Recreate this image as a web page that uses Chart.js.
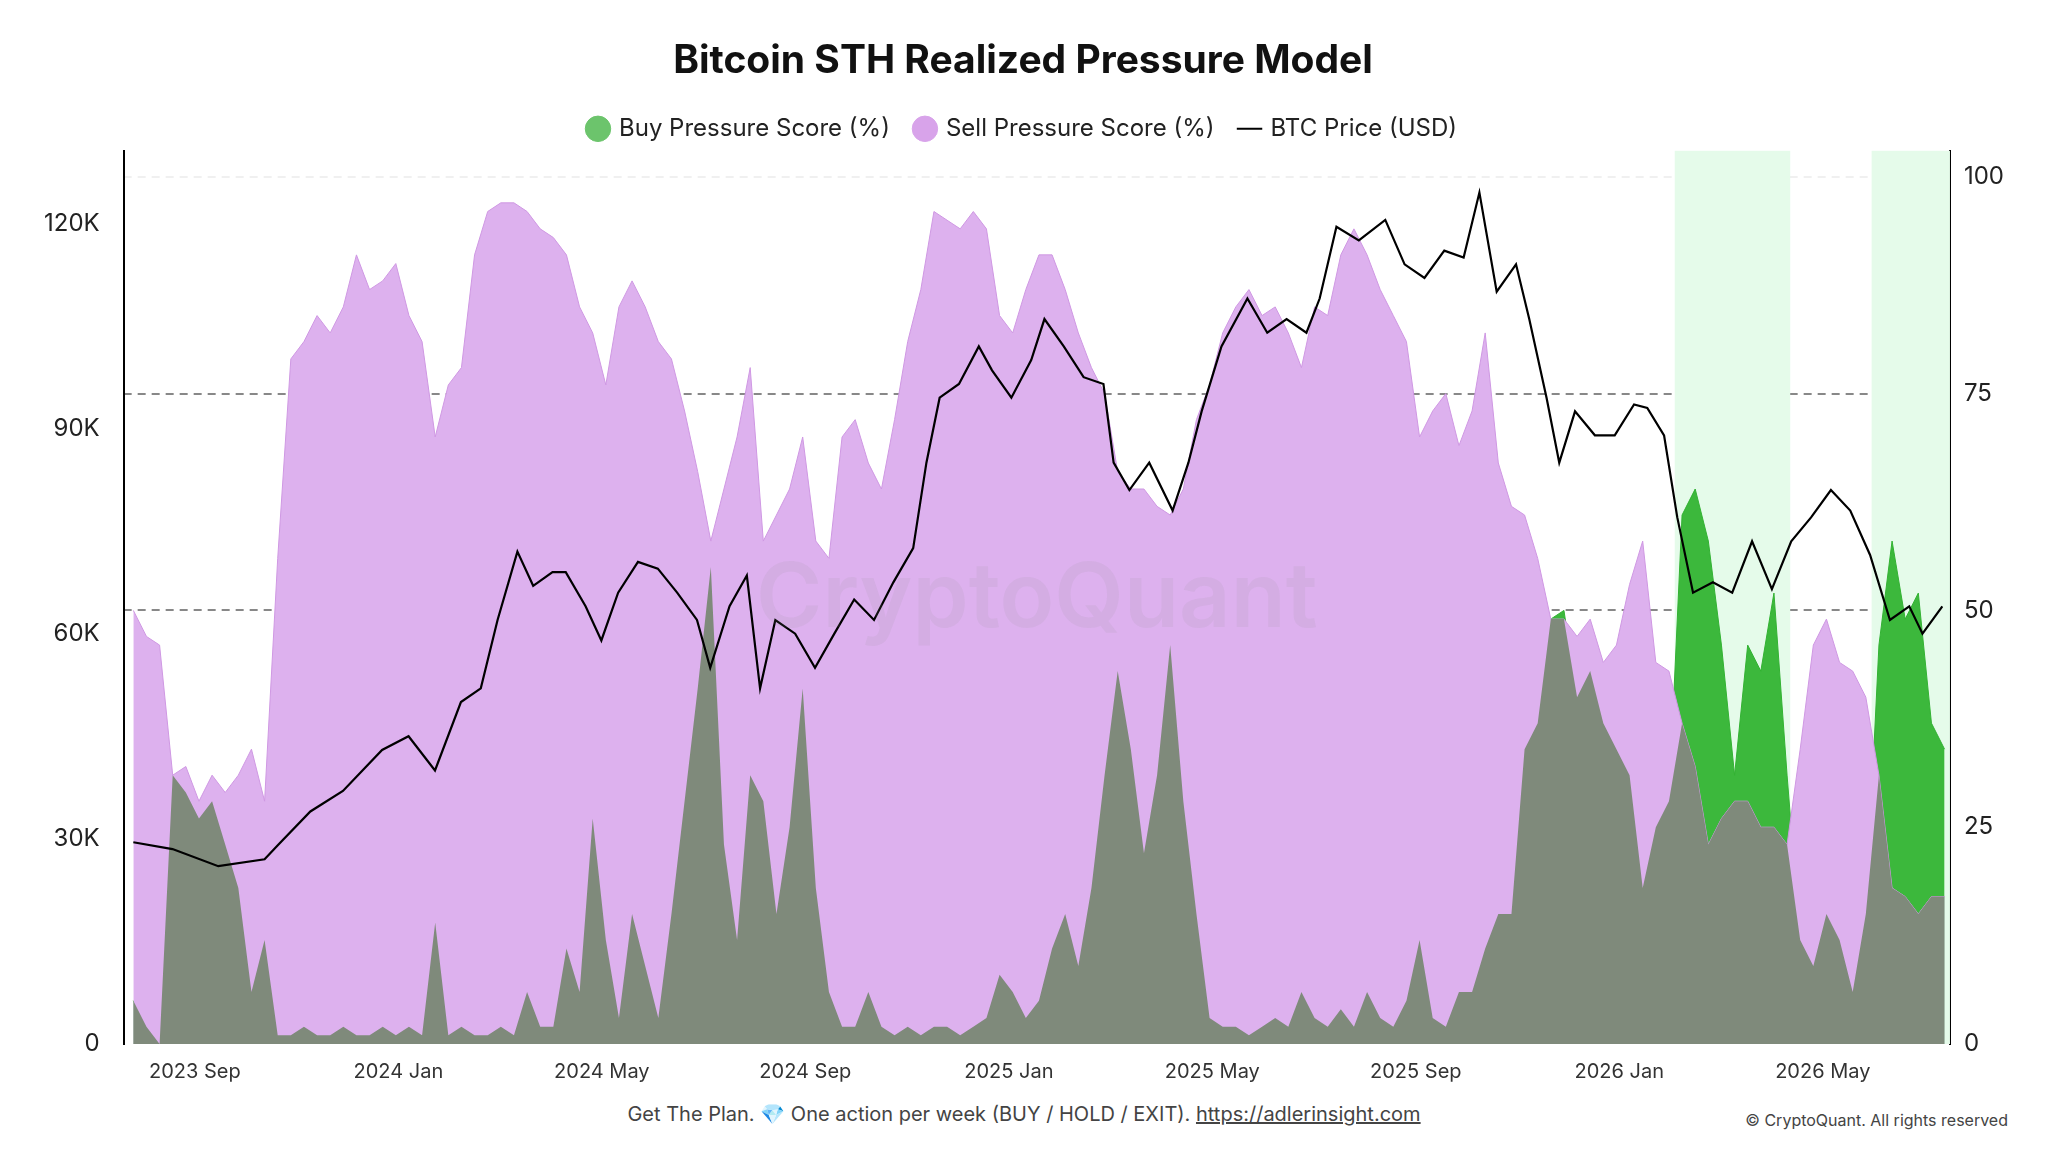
<!DOCTYPE html>
<html lang="en">
<head>
<meta charset="UTF-8">
<title>Bitcoin STH Realized Pressure Model</title>
<style>
  html, body { margin: 0; padding: 0; background: #fff; }
  #wrap { position: relative; width: 2048px; height: 1152px; }
  #footer { position: absolute; left: 0; width: 2048px; top: 1102px; text-align: center;
            font: 20px "Inter", "Noto Sans", sans-serif; color: #444; }
  #footer a { color: #444; }
  #copy { position: absolute; right: 40px; top: 1110px; font: 16px "Inter", sans-serif; color: #444; }
</style>
</head>
<body>
<div id="wrap">
  <canvas id="myChart" width="2048" height="1102"></canvas>
  <div id="footer">Get The Plan. 💎 One action per week (BUY / HOLD / EXIT). <a href="#">https://adlerinsight.com</a></div>
  <div id="copy">© CryptoQuant. All rights reserved</div>
</div>

<script src="https://cdn.jsdelivr.net/npm/chart.js@4"></script>
<script>
// x values are months counted from 2023 Jan (8 = 2023 Sep)
var monthNames = {8: '2023 Sep', 12: '2024 Jan', 16: '2024 May', 20: '2024 Sep', 24: '2025 Jan',
                  28: '2025 May', 32: '2025 Sep', 36: '2026 Jan', 40: '2026 May'};

// pressure scores sampled roughly weekly
var pressureStart = 6.79;
var pressureStep = 0.258;
var sellScore = [50,47,46,31,32,28,31,29,31,34,28,56,79,81,84,82,85,91,87,88,
                 90,84,81,70,76,78,91,96,97,97,96,94,93,91,85,82,76,85,88,85,
                 81,79,73,66,58,64,70,78,58,61,64,70,58,56,70,72,67,64,72,81,
                 87,96,95,94,96,94,84,82,87,91,91,87,82,78,75,66,64,64,62,61,
                 64,72,76,82,85,87,84,85,82,78,85,84,91,94,91,87,84,81,70,73,
                 75,69,73,82,67,62,61,56,49,49,47,49,44,46,53,58,44,43,37,32,
                 23,26,28,28,25,25,23,34,46,49,44,43,40,31,18,17,15,17,17];
var buyScore  = [5,2,0,31,29,26,28,23,18,6,12,1,1,2,1,1,2,1,1,2,
                 1,2,1,14,1,2,1,1,2,1,6,2,2,11,6,26,12,3,15,9,
                 3,15,28,41,55,23,12,31,28,15,25,41,18,6,2,2,6,2,1,2,
                 1,2,2,1,2,3,8,6,3,5,11,15,9,18,31,43,34,22,31,46,
                 28,15,3,2,2,1,2,3,2,6,3,2,4,2,6,3,2,5,12,3,
                 2,6,6,11,15,15,34,37,49,50,40,43,37,34,31,18,25,28,61,64,
                 58,46,31,46,43,52,31,12,9,15,12,6,15,46,58,49,52,37,34];

// BTC price (USD) readings
var priceMonth = [6.79,7.56,8.46,9.37,9.62,10.27,10.91,11.68,12.2,12.72,13.23,13.62,13.95,14.34,14.65,15.03,15.29,15.68,15.99,16.32,
                  16.71,17.1,17.48,17.87,18.13,18.51,18.85,19.11,19.41,19.8,20.19,20.57,20.96,21.35,21.73,22.12,22.38,22.64,23.02,23.41,
                  23.67,24.05,24.44,24.7,25.08,25.47,25.86,26.06,26.37,26.76,27.22,27.53,27.79,28.18,28.69,29.08,29.46,29.85,30.11,30.44,
                  30.88,31.4,31.78,32.17,32.56,32.94,33.25,33.59,33.97,34.23,34.57,34.82,35.13,35.52,35.91,36.29,36.55,36.88,37.14,37.45,
                  37.84,38.22,38.61,39.0,39.38,39.77,40.16,40.54,40.93,41.32,41.7,41.96,42.35];
var priceK = [29.5,28.5,26,27,29,34,37,43,45,40,50,52,62,72,67,69,69,64,59,66,
              70.5,69.5,66,62,55,64,68.5,52,62,60,55,60,65,62,67.5,72.5,85,94.5,96.5,102,
              98.5,94.5,100,106,102,97.5,96.5,85,81,85,78,85,92.5,102,109,104,106,104,109,119.5,
              117.5,120.5,114,112,116,115,124.5,110,114,106,94.5,85,92.5,89,89,93.5,93,89,77,66,
              67.5,66,73.5,66.5,73.5,77,81,78,71.5,62,64,60,64];

// highlighted buy windows (months)
var bands = [[37.09, 39.36], [40.96, 42.6]];

var sellData = [], buyData = [], overlapData = [], priceData = [];
for (var i = 0; i < sellScore.length; i++) {
    var x = pressureStart + i * pressureStep;
    sellData.push({x: x, y: sellScore[i]});
    buyData.push({x: x, y: buyScore[i]});
    overlapData.push({x: x, y: Math.min(buyScore[i], sellScore[i])});
}
for (var j = 0; j < priceK.length; j++) {
    priceData.push({x: priceMonth[j], y: priceK[j] * 1000});
}

var bandPlugin = {
    id: 'bands',
    beforeDatasetsDraw: function (chart) {
        var ctx = chart.ctx, xs = chart.scales.x, area = chart.chartArea;
        ctx.save();
        ctx.fillStyle = '#e5fbea';
        bands.forEach(function (b) {
            var x1 = xs.getPixelForValue(b[0]);
            var x2 = Math.min(xs.getPixelForValue(b[1]), area.right);
            ctx.fillRect(x1, area.top, x2 - x1, area.bottom - area.top);
        });
        ctx.restore();
    },
    afterDatasetsDraw: function (chart) {
        var ctx = chart.ctx, area = chart.chartArea;
        ctx.save();
        ctx.font = '600 90px Inter, sans-serif';
        ctx.fillStyle = 'rgba(150,150,150,0.12)';
        ctx.textAlign = 'center';
        ctx.textBaseline = 'middle';
        ctx.fillText('CryptoQuant', (area.left + area.right) / 2, 600);
        ctx.restore();
    }
};

var ctx = document.getElementById('myChart').getContext('2d');
new Chart(ctx, {
    type: 'line',
    data: {
        datasets: [
            {label: 'BTC Price (USD)', data: priceData, yAxisID: 'y', borderColor: '#000', backgroundColor: '#000',
             borderWidth: 2.2, pointRadius: 0, fill: false, order: 0},
            {label: 'overlap', data: overlapData, yAxisID: 'y1', borderWidth: 0, pointRadius: 0,
             backgroundColor: '#7f8a7b', fill: 'origin', order: 1},
            {label: 'Sell Pressure Score (%)', data: sellData, yAxisID: 'y1', borderColor: '#cf98e3', borderWidth: 1,
             pointRadius: 0, backgroundColor: '#ddb1ee', fill: 'origin', order: 2},
            {label: 'Buy Pressure Score (%)', data: buyData, yAxisID: 'y1', borderColor: '#33b233', borderWidth: 1,
             pointRadius: 0, backgroundColor: '#3cb83c', fill: 'origin', order: 3}
        ]
    },
    options: {
        responsive: false,
        animation: false,
        layout: {padding: {left: 28, right: 30, top: 20, bottom: 10}},
        plugins: {
            title: {display: true, text: 'Bitcoin STH Realized Pressure Model', color: '#111',
                    font: {family: 'Inter', size: 39, weight: 'bold'}, padding: {top: 18, bottom: 6}},
            legend: {
                display: true,
                labels: {
                    usePointStyle: true, color: '#222', font: {family: 'Inter', size: 24}, boxWidth: 18, boxHeight: 18, padding: 26,
                    filter: function (item) { return item.text !== 'overlap'; },
                    sort: function (a, b) { return b.datasetIndex - a.datasetIndex; },
                    generateLabels: function (chart) {
                        var items = Chart.defaults.plugins.legend.labels.generateLabels(chart);
                        items.forEach(function (it) {
                            if (it.text === 'BTC Price (USD)') { it.pointStyle = 'line'; it.lineWidth = 2; it.strokeStyle = '#000'; }
                            else if (it.text.indexOf('Buy') === 0) { it.pointStyle = 'circle'; it.fillStyle = '#6cc46c'; it.strokeStyle = '#6cc46c'; }
                            else { it.pointStyle = 'circle'; it.fillStyle = '#d8a3ea'; it.strokeStyle = '#d8a3ea'; }
                        });
                        return items;
                    }
                }
            },
            tooltip: {enabled: false}
        },
        scales: {
            x: {
                type: 'linear', min: 6.6, max: 42.5,
                afterBuildTicks: function (axis) {
                    axis.ticks = [8, 12, 16, 20, 24, 28, 32, 36, 40].map(function (v) { return {value: v}; });
                },
                ticks: {callback: function (v) { return monthNames[v] || ''; }, color: '#333',
                        font: {family: 'Inter', size: 20}, maxRotation: 0, autoSkip: false, padding: 8},
                grid: {display: false},
                border: {display: false}
            },
            y: {
                position: 'left', min: 0, max: 130600,
                afterBuildTicks: function (axis) {
                    axis.ticks = [0, 30000, 60000, 90000, 120000].map(function (v) { return {value: v}; });
                },
                ticks: {callback: function (v) { return v === 0 ? '0' : (v / 1000) + 'K'; }, color: '#222',
                        font: {family: 'Inter', size: 24}, padding: 16},
                grid: {display: false},
                border: {display: true, color: '#000', width: 2}
            },
            y1: {
                position: 'right', min: 0, max: 103,
                afterBuildTicks: function (axis) {
                    axis.ticks = [0, 25, 50, 75, 100].map(function (v) { return {value: v}; });
                },
                ticks: {color: '#222', font: {family: 'Inter', size: 24}, padding: 14},
                grid: {
                    drawTicks: false,
                    color: function (c) {
                        var v = c.tick && c.tick.value;
                        if (v === 50 || v === 75) return '#888';
                        if (v === 100) return '#f0f0f0';
                        return 'rgba(0,0,0,0)';
                    },
                    lineWidth: 2
                },
                border: {display: true, color: '#000', width: 2, dash: [8, 6]}
            }
        }
    },
    plugins: [bandPlugin]
});
</script>
</body>
</html>
